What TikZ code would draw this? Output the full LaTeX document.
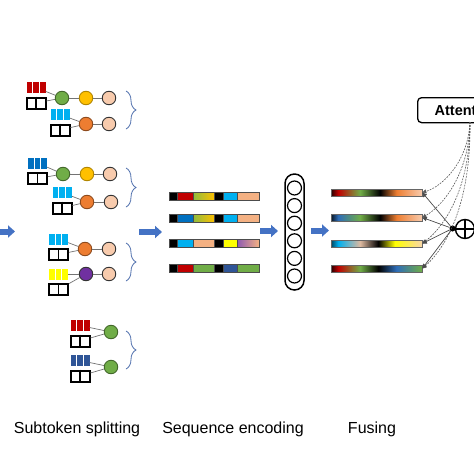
\documentclass[tikz,border=0pt]{standalone}
\usepackage{fontspec}
\setmainfont{Liberation Sans}
\usetikzlibrary{arrows.meta,decorations.pathreplacing}
\definecolor{cred}{HTML}{C00000}
\definecolor{cgreen}{HTML}{70AD47}
\definecolor{cyellow}{HTML}{FFC000}
\definecolor{cpeach}{HTML}{F8CBAD}
\definecolor{corange}{HTML}{ED7D31}
\definecolor{ccyan}{HTML}{00B0F0}
\definecolor{cblue}{HTML}{0070C0}
\definecolor{cnavy}{HTML}{2F5597}
\definecolor{cyel}{HTML}{FFFF00}
\definecolor{cpurple}{HTML}{7030A0}
\definecolor{arrowblue}{HTML}{4472C4}
\definecolor{bracecol}{HTML}{4F6FAD}
\definecolor{speach}{HTML}{F4B183}
\definecolor{slime}{HTML}{8FBC3F}
\definecolor{ftan}{HTML}{DDB9A0}
\definecolor{fend}{HTML}{F8D6A8}
\definecolor{fblue}{HTML}{2E6DB8}
\pgfdeclarehorizontalshading{fusA}{100bp}{color(0bp)=(black); color(25bp)=(black!80!cred); color(29bp)=(cred); color(41bp)=(cgreen); color(52bp)=(black); color(61bp)=(corange); color(75bp)=(cpeach); color(100bp)=(cpeach)}
\pgfdeclarehorizontalshading{fusB}{100bp}{color(0bp)=(black); color(25bp)=(black!80!fblue); color(29bp)=(fblue); color(41bp)=(cgreen); color(52bp)=(black); color(61bp)=(corange); color(75bp)=(cpeach); color(100bp)=(cpeach)}
\pgfdeclarehorizontalshading{fusC}{100bp}{color(0bp)=(black); color(25bp)=(black!60!ccyan); color(29bp)=(ccyan); color(41bp)=(ftan); color(51bp)=(black); color(60bp)=(cyel); color(75bp)=(fend); color(100bp)=(fend)}
\pgfdeclarehorizontalshading{fusD}{100bp}{color(0bp)=(black); color(25bp)=(black!80!cred); color(29bp)=(cred); color(41bp)=(cgreen); color(51bp)=(black); color(61bp)=(fblue); color(75bp)=(cgreen); color(100bp)=(cgreen)}
\newcommand\subtok[4]{%
  \node[strip, fill=#2] (#1s) at (#3,#4) {};
  \draw[white, line width=0.8pt] ([xshift=-3.17pt]#1s.north) -- ([xshift=-3.17pt]#1s.south)
     ([xshift=3.17pt]#1s.north) -- ([xshift=3.17pt]#1s.south);
  \node[tbox] (#1b) at (#3,#4+15.5) {};
  \draw[line width=1.3pt] (#1b.north) -- (#1b.south);
}
\newcommand\encbar[7]{%
  \path[encseg,#2] (169,#1-4) rectangle (177,#1+4);
  \path[encseg,#3] (177,#1-4) rectangle (193,#1+4);
  \path[encseg,#4] (193,#1-4) rectangle (214.5,#1+4);
  \path[encseg,#5] (214.5,#1-4) rectangle (223,#1+4);
  \path[encseg,#6] (223,#1-4) rectangle (237,#1+4);
  \path[encseg,#7] (237,#1-4) rectangle (259,#1+4);
}
\begin{document}
\begin{tikzpicture}[x=1pt,y=-1pt,
  strip/.style={rectangle, minimum width=19pt, minimum height=11pt, inner sep=0pt},
  tbox/.style={rectangle, draw=black, line width=2pt, minimum width=19pt, minimum height=11pt, inner sep=0pt, fill=white},
  circ/.style={circle, minimum size=13.5pt, inner sep=0pt, line width=0.9pt},
  link/.style={draw=black!55, line width=0.7pt},
  grpbrace/.style={decorate, decoration={brace, amplitude=10pt}, draw=bracecol, line width=0.8pt},
  flow/.style={draw=arrowblue, line width=6pt, -{Triangle[length=7pt,width=12pt]}},
  encseg/.style={draw=black!70, line width=0.5pt},
  fbar/.style={rectangle, draw=black!60, line width=0.6pt, minimum width=91pt, minimum height=7pt, inner sep=0pt, shade},
  lab/.style={font=\fontsize{16}{19}\selectfont, inner sep=0pt, anchor=base},
  encc/.style={circle, draw=black, line width=1.2pt, fill=white, minimum size=14pt, inner sep=0pt},
  attline/.style={draw=black!65, dashed, dash pattern=on 1.8pt off 1.2pt, line width=0.6pt, -{Triangle[length=4pt,width=4pt]}},
  fuseline/.style={draw=black!70, line width=0.7pt, -{Triangle[length=4.5pt,width=4.5pt]}}
]
\useasboundingbox (0,0) rectangle (474,474);
\clip (0,0) rectangle (474,474);
\fill[white] (0,0) rectangle (474,474);

% ---- subtoken splitting ----
\subtok{t1}{cred}{36}{87.5}
\subtok{t2}{ccyan}{60}{114.5}
\subtok{t3}{cblue}{37.5}{163}
\subtok{t4}{ccyan}{62}{192.5}
\subtok{t5}{ccyan}{58.5}{239}
\subtok{t6}{cyel}{58.5}{274}
\subtok{t7}{cred}{80}{325.5}
\subtok{t8}{cnavy}{80}{360.5}

\node[circ, fill=cgreen, draw=cgreen!60!black] (c1a) at (62,98) {};
\node[circ, fill=cyellow, draw=cyellow!70!black] (c1b) at (86,98) {};
\node[circ, fill=cpeach, draw=black!80] (c1c) at (109,98) {};
\node[circ, fill=corange, draw=corange!60!black] (c2a) at (86,124) {};
\node[circ, fill=cpeach, draw=black!80] (c2b) at (109,124) {};
\node[circ, fill=cgreen, draw=cgreen!60!black] (c3a) at (63,174) {};
\node[circ, fill=cyellow, draw=cyellow!70!black] (c3b) at (87,174) {};
\node[circ, fill=cpeach, draw=black!80] (c3c) at (110,174) {};
\node[circ, fill=corange, draw=corange!60!black] (c4a) at (87,202) {};
\node[circ, fill=cpeach, draw=black!80] (c4b) at (111,202) {};
\node[circ, fill=corange, draw=corange!60!black] (c5a) at (85,249) {};
\node[circ, fill=cpeach, draw=black!80] (c5b) at (109,249) {};
\node[circ, fill=cpurple, draw=black!80] (c6a) at (86,274) {};
\node[circ, fill=cpeach, draw=black!80] (c6b) at (109,274) {};
\node[circ, fill=cgreen, draw=cgreen!60!black] (c7a) at (111,332) {};
\node[circ, fill=cgreen, draw=cgreen!60!black] (c8a) at (111,367) {};

\draw[link] (t1s) -- (c1a); \draw[link] (t1b) -- (c1a);
\draw[link] (c1a) -- (c1b); \draw[link] (c1b) -- (c1c);
\draw[link] (t2s) -- (c2a); \draw[link] (t2b) -- (c2a);
\draw[link] (c2a) -- (c2b);
\draw[link] (t3s) -- (c3a); \draw[link] (t3b) -- (c3a);
\draw[link] (c3a) -- (c3b); \draw[link] (c3b) -- (c3c);
\draw[link] (t4s) -- (c4a); \draw[link] (t4b) -- (c4a);
\draw[link] (c4a) -- (c4b);
\draw[link] (t5s) -- (c5a); \draw[link] (t5b) -- (c5a);
\draw[link] (c5a) -- (c5b);
\draw[link] (t6s) -- (c6a); \draw[link] (t6b) -- (c6a);
\draw[link] (c6a) -- (c6b);
\draw[link] (t7s) -- (c7a); \draw[link] (t7b) -- (c7a);
\draw[link] (t8s) -- (c8a); \draw[link] (t8b) -- (c8a);

\draw[grpbrace] (126,91) -- (126,129);
\draw[grpbrace] (126,168) -- (126,207);
\draw[grpbrace] (126,243) -- (126,281);
\draw[grpbrace] (126,331) -- (126,369);

% ---- flow arrows ----
\coordinate (a1s) at (0,231.5); \coordinate (a1e) at (15,231.5);
\coordinate (a2s) at (139,232); \coordinate (a2e) at (162,232);
\coordinate (a3s) at (260,231); \coordinate (a3e) at (278,231);
\coordinate (a4s) at (311,230.5); \coordinate (a4e) at (329,230.5);
\draw[flow] (a1s) -- (a1e);
\draw[flow] (a2s) -- (a2e);
\draw[flow] (a3s) -- (a3e);
\draw[flow] (a4s) -- (a4e);

% ---- sequence encoding ----
\encbar{196.5}{fill=black}{fill=cred}{left color=slime,right color=cyellow}{fill=black}{fill=ccyan}{fill=speach}
\encbar{218.5}{fill=black}{fill=cblue}{left color=slime,right color=cyellow}{fill=black}{fill=ccyan}{fill=speach}
\encbar{243}{fill=black}{fill=ccyan}{fill=speach}{fill=black}{fill=cyel}{left color=cpurple!80,right color=speach}
\encbar{268}{fill=black}{fill=cred}{fill=cgreen}{fill=black}{fill=cnavy}{fill=cgreen}

% ---- encoder ----
\node[draw, line width=1.5pt, rounded corners=9.4pt, minimum width=19pt, minimum height=116pt, inner sep=0pt] (enc) at (294.5,232) {};
\foreach \i in {0,...,5} {
  \node[encc] (e\i) at (294.5,188+17.6*\i) {};
}

% ---- fusing ----
\node[fbar, shading=fusA] (f1) at (376.5,192.5) {};
\node[fbar, shading=fusB] (f2) at (376.5,217.5) {};
\node[fbar, shading=fusC] (f3) at (376.5,243.5) {};
\node[fbar, shading=fusD] (f4) at (376.5,268.5) {};

\node[draw, line width=1.3pt, rounded corners=4pt, anchor=north west, minimum height=25pt,
      inner xsep=17pt, inner ysep=0pt, font=\fontsize{14.5}{17}\selectfont\bfseries] (att) at (417,97) {Attention};
\coordinate (dsrc) at (470,122);

\node[circle, draw, line width=1.4pt, minimum size=19pt, inner sep=0pt] (op) at (465,229) {};
\draw[line width=1.4pt] (op.north) -- (op.south) (op.west) -- (op.east);
\node[circle, fill=black, minimum size=6pt, inner sep=0pt] (dot) at (452.5,228.5) {};

\draw[attline] (dsrc) .. controls +(-2,40) and +(20,-6) .. (f1.east);
\draw[attline] (dsrc) .. controls +(-1,55) and +(18,-10) .. (f2.east);
\draw[attline] (dsrc) .. controls +(0,75) and +(16,-12) .. (f3.east);
\draw[attline] (dsrc) .. controls +(1,95) and +(16,-14) .. (f4.east);

\draw[fuseline] (dot) -- (f1.east);
\draw[fuseline] (dot) -- (f2.east);
\draw[fuseline] (dot) -- (f3.east);
\draw[fuseline] (dot) -- (f4.east);

% ---- labels ----
\node[lab] (l1) at (77,433) {Subtoken splitting};
\node[lab] (l2) at (233,433) {Sequence encoding};
\node[lab] (l3) at (372,433) {Fusing};
\end{tikzpicture}
\end{document}
